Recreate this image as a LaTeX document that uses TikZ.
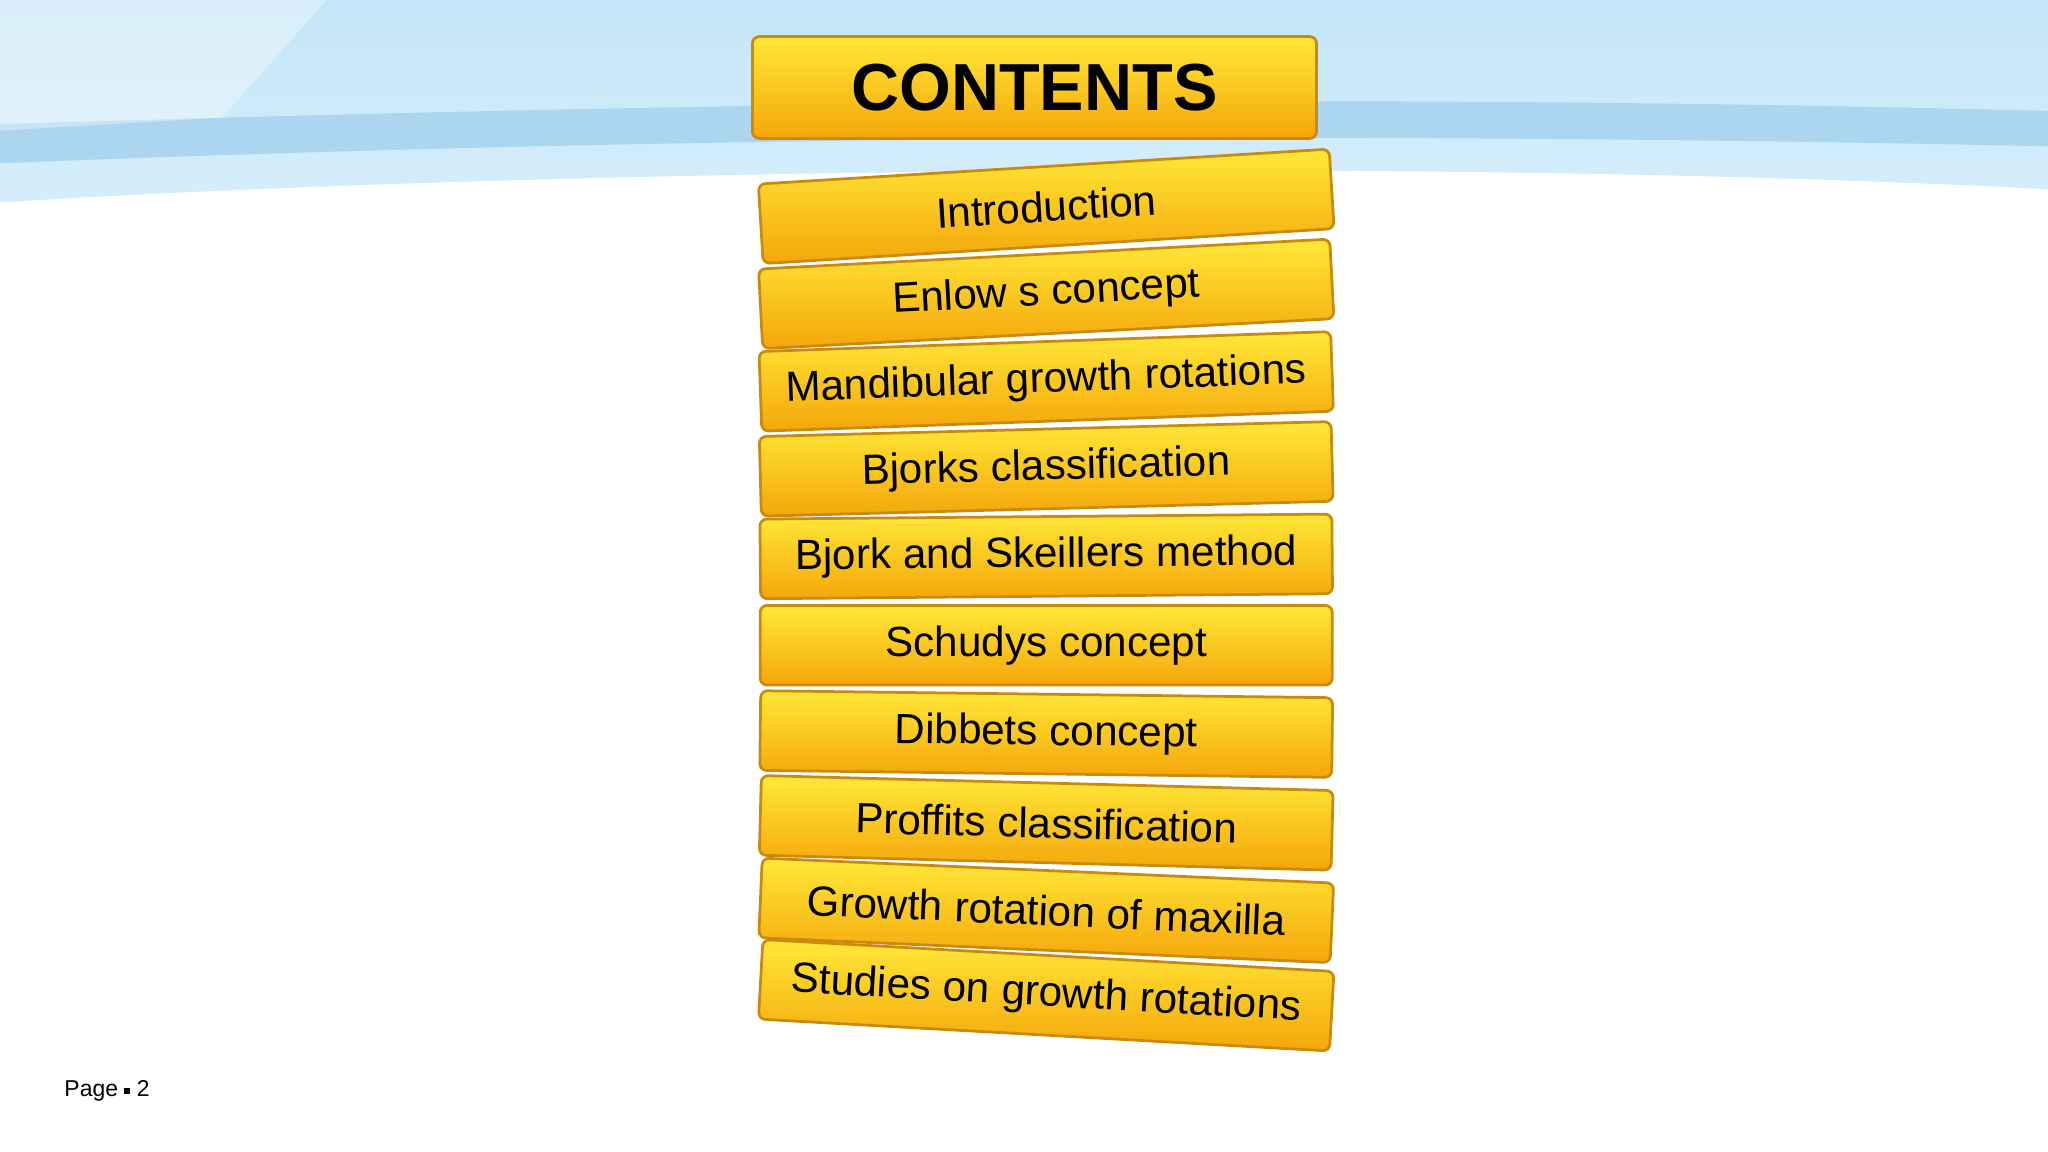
\documentclass[tikz,border=0pt]{standalone}
\usepackage{fontspec}
\setmainfont{Liberation Sans}
\definecolor{sky}{HTML}{C4E6F8}
\definecolor{skyband}{HTML}{A9D3F0}
\definecolor{boxtop}{HTML}{FFE838}
\definecolor{boxbot}{HTML}{F5A60A}
\definecolor{boxedge}{HTML}{C98A10}
\begin{document}
\begin{tikzpicture}[x=0.02cm,y=-0.02cm,
  itembox/.style={draw=boxedge,line width=1.2pt,rounded corners=3pt,
    top color=boxtop,bottom color=boxbot,
    minimum width=8.76cm,minimum height=1.22cm,inner sep=0pt,
    font=\fontsize{18.4}{22}\selectfont,text=black}]
\useasboundingbox (0,0) rectangle (1568,882);
\fill[white] (0,0) rectangle (1568,882);
\shade[top color=sky,bottom color=sky!70!white] (0,0) rectangle (1568,160);
\fill[skyband,opacity=0.9] (0,95) .. controls (500,80) and (1000,70) .. (1568,85) -- (1568,112) .. controls (1000,100) and (500,105) .. (0,125) -- cycle;
\fill[white] (0,155) .. controls (400,130) and (1100,120) .. (1568,145) -- (1568,882) -- (0,882) -- cycle;
\fill[white,opacity=0.35] (0,0) -- (250,0) -- (170,90) -- (0,100) -- cycle;
\node[itembox,minimum width=8.64cm,minimum height=1.56cm,font=\fontsize{29}{34}\selectfont\bfseries] (title) at (792,67) {CONTENTS};
\node[itembox,rotate=3.5] (i1) at (801,158) {Introduction};
\node[itembox,rotate=3] (i2) at (801,225) {Enlow s concept};
\node[itembox,rotate=2] (i3) at (801,292) {Mandibular growth rotations};
\node[itembox,rotate=1.5] (i4) at (801,359) {Bjorks classification};
\node[itembox,rotate=0.5] (i5) at (801,426) {Bjork and Skeillers method};
\node[itembox,rotate=0] (i6) at (801,494) {Schudys concept};
\node[itembox,rotate=-0.7] (i7) at (801,562) {Dibbets concept};
\node[itembox,rotate=-1.5] (i8) at (801,630) {Proffits classification};
\node[itembox,rotate=-2.5] (i9) at (801,697) {Growth rotation of maxilla};
\node[itembox,rotate=-3.2] (i10) at (801,762) {Studies on growth rotations};
\node[anchor=west,inner sep=0pt,font=\fontsize{10}{12}\selectfont] (page) at (49,835) {Page \raisebox{0.15ex}{\rule{0.5ex}{0.5ex}} 2};
\end{tikzpicture}
\end{document}
